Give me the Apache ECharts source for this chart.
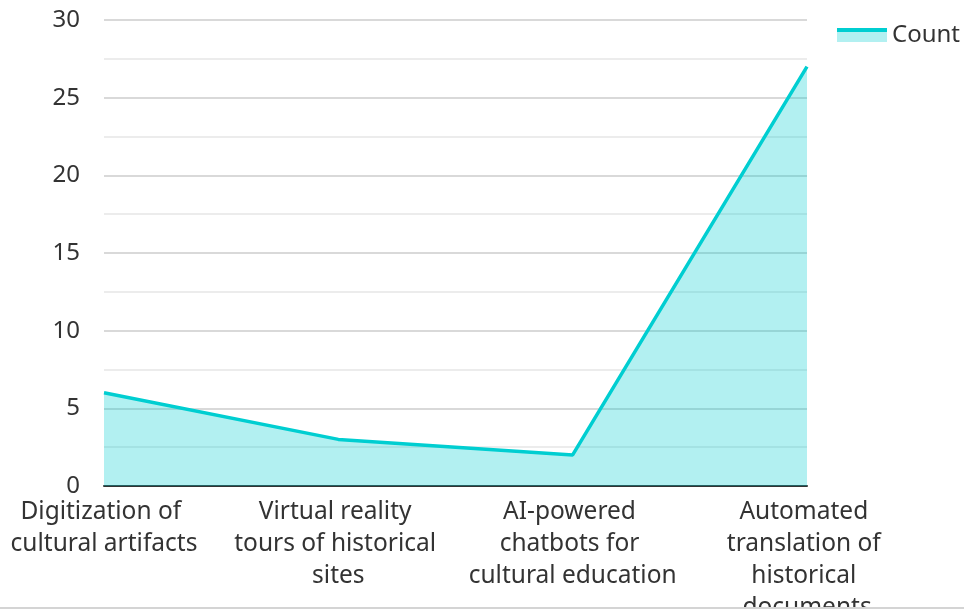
<!DOCTYPE html>
<html>
<head>
<meta charset="utf-8">
<script src="https://cdn.jsdelivr.net/npm/echarts@6/dist/echarts.min.js"></script>
<style>
  body { margin: 0; background: #fff; }
  #main { width: 964px; height: 607px; border-bottom: 2px solid #d4d4d4; }
</style>
</head>
<body>
<div id="main"></div>
<script>
const categories = [
  'Digitization of cultural artifacts',
  'Virtual reality tours of historical sites',
  'AI-powered chatbots for cultural education',
  'Automated translation of historical documents'
];
const counts = [6, 3, 2, 27];
const seriesName = 'Count';

const lineColor = '#00CED1';
const fillColor = 'rgba(0,206,209,0.3)';
const font = 'Noto Sans';

// legend swatch: line on top of the filled area
const swatch = 'image://data:image/svg+xml;utf8,' + encodeURIComponent(
  '<svg xmlns="http://www.w3.org/2000/svg" width="50" height="14">' +
  '<rect x="0" y="3" width="50" height="11" fill="' + fillColor + '"/>' +
  '<rect x="0" y="0" width="50" height="4" fill="' + lineColor + '"/></svg>'
);

const chart = echarts.init(document.getElementById('main'));
chart.setOption({
  animation: false,
  textStyle: { fontFamily: font },
  grid: { left: 104, right: 157, top: 20, bottom: 121, outerBoundsMode: 'none', containLabel: false },
  legend: {
    data: [{ name: seriesName, icon: swatch }],
    left: 832, top: 18,
    itemWidth: 50, itemHeight: 14, itemGap: 10,
    textStyle: { fontSize: 24, color: '#333', fontFamily: font }
  },
  xAxis: {
    type: 'category',
    data: categories,
    boundaryGap: false,
    axisLine: { lineStyle: { color: '#333', width: 2 } },
    axisTick: { show: false },
    axisLabel: {
      interval: 0, margin: 10, fontSize: 24.5, lineHeight: 32, color: '#333',
      width: 214, overflow: 'break', align: 'center'
    }
  },
  yAxis: {
    type: 'value',
    min: 0, max: 30, interval: 5,
    axisLine: { show: false },
    axisTick: { show: false },
    axisLabel: { fontSize: 24, color: '#333', margin: 24 },
    splitLine: { lineStyle: { color: '#cccccc', width: 1.5 } },
    minorTick: { show: false, splitNumber: 2 },
    minorSplitLine: { show: true, lineStyle: { color: '#e6e6e6', width: 1.5 } }
  },
  series: [{
    name: seriesName,
    type: 'line',
    data: counts,
    showSymbol: false,
    symbol: 'none',
    lineStyle: { color: lineColor, width: 3.5 },
    itemStyle: { color: lineColor },
    areaStyle: { color: fillColor, opacity: 1 }
  }]
});
</script>
</body>
</html>
